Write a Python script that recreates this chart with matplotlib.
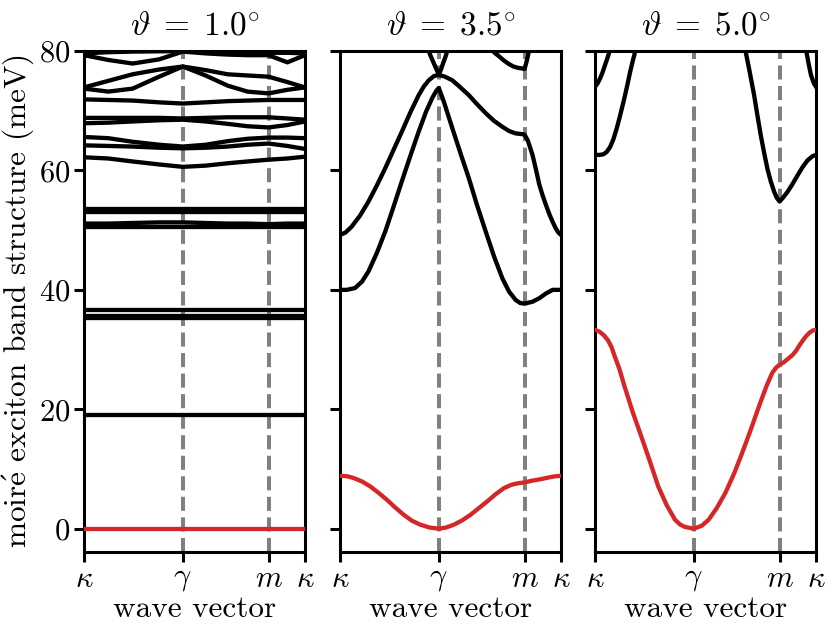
import numpy as np
import matplotlib
matplotlib.use("Agg")
import matplotlib.pyplot as plt

plt.rcParams['font.family'] = ['cmr10', 'DejaVu Serif']
plt.rcParams['mathtext.fontset'] = 'cm'
plt.rcParams['axes.formatter.use_mathtext'] = True

# ---------------- data ----------------
titles = [r"$\vartheta\;=\;1.0^{\circ}$", r"$\vartheta\;=\;3.5^{\circ}$", r"$\vartheta\;=\;5.0^{\circ}$"]
tick_pos = [0.0, 0.447, 0.835, 1.0]
tick_labels = [r"$\kappa$", r"$\gamma$", r"$m$", r"$\kappa$"]
ylabel = r"moir$\acute{\mathrm{e}}$ exciton band structure (meV)"
xlabel = "wave vector"

# panel 1 (theta = 1.0 deg): nearly flat bands on a coarse path grid
p1_k = [0.0, 0.11, 0.22, 0.34, 0.447, 0.55, 0.65, 0.74, 0.835, 0.92, 1.0]
p1_red = [0.0, 0.0, 0.0, 0.0, 0.0, 0.0, 0.0, 0.0, 0.0, 0.0, 0.0]
p1_bands = [
    [19.1] * 11,
    [35.3] * 11,
    [35.6] * 11,
    [36.7] * 11,
    [50.6, 50.6, 50.6, 50.6, 50.6, 50.6, 50.6, 50.6, 50.6, 50.6, 50.6],
    [51.1, 51.1, 51.2, 51.3, 51.3, 51.2, 51.1, 51.1, 51.0, 51.1, 51.1],
    [53.1, 53.1, 53.1, 53.1, 53.1, 53.1, 53.1, 53.1, 53.1, 53.1, 53.1],
    [53.6, 53.6, 53.6, 53.6, 53.6, 53.6, 53.6, 53.6, 53.6, 53.6, 53.6],
    [62.2, 62.0, 61.5, 61.0, 60.6, 60.8, 61.2, 61.5, 61.8, 62.0, 62.3],
    [64.2, 64.1, 64.0, 63.8, 63.7, 63.8, 64.0, 64.3, 64.5, 64.1, 63.6],
    [65.6, 65.4, 64.8, 64.3, 64.0, 64.3, 64.9, 65.3, 65.5, 65.5, 65.4],
    [67.9, 68.0, 68.2, 68.4, 68.5, 68.2, 67.8, 67.4, 67.2, 67.6, 68.2],
    [68.8, 68.8, 68.8, 68.8, 68.7, 68.8, 68.9, 68.9, 68.9, 68.7, 68.5],
    [71.9, 71.8, 71.7, 71.4, 71.2, 71.4, 71.6, 71.7, 71.8, 71.8, 71.8],
    [73.7, 73.2, 73.7, 75.7, 77.4, 75.9, 74.2, 73.2, 72.9, 73.5, 73.9],
    [73.9, 75.0, 76.1, 76.9, 77.4, 76.8, 76.1, 75.9, 75.7, 74.8, 73.9],
    [79.3, 78.5, 77.9, 78.6, 79.9, 79.6, 79.4, 79.3, 79.3, 78.1, 79.3],
    [79.6, 79.8, 79.9, 79.95, 80.0, 79.9, 79.8, 79.8, 79.7, 79.7, 79.6],
]

# panel 2 (theta = 3.5 deg)
p2_red_k = [0.0, 0.03, 0.061, 0.1, 0.136, 0.175, 0.212, 0.25, 0.288, 0.325,
            0.364, 0.405, 0.447, 0.48, 0.515, 0.553, 0.591, 0.63, 0.667, 0.705,
            0.742, 0.775, 0.803, 0.835, 0.87, 0.909, 0.94, 0.970, 1.0]
p2_red = [8.87, 8.8, 8.5, 7.9, 7.1, 6.0, 4.85, 3.55, 2.34, 1.35,
          0.67, 0.2, 0.0, 0.2, 0.67, 1.4, 2.34, 3.5, 4.6, 5.8,
          6.8, 7.35, 7.6, 7.75, 8.05, 8.3, 8.55, 8.76, 8.87]
p2_low_k = [0.0, 0.03, 0.068, 0.1, 0.129, 0.167, 0.205, 0.243, 0.280, 0.318,
            0.356, 0.39, 0.417, 0.435, 0.447, 0.47, 0.508, 0.545, 0.583, 0.62,
            0.659, 0.697, 0.735, 0.765, 0.795, 0.815, 0.835, 0.87, 0.902, 0.932,
            0.962, 1.0]
p2_low = [40.0, 40.0, 40.3, 41.4, 43.1, 46.2, 49.8, 54.0, 58.2, 62.4,
          66.5, 69.9, 72.1, 73.3, 73.8, 71.5, 67.1, 62.9, 58.7, 54.2,
          49.8, 45.6, 41.9, 39.7, 38.3, 37.8, 37.7, 38.0, 38.6, 39.4,
          40.0, 40.0]
p2_up_k = [0.0, 0.025, 0.053, 0.09, 0.129, 0.167, 0.205, 0.243, 0.280, 0.318,
           0.356, 0.38, 0.402, 0.425, 0.447, 0.475, 0.508, 0.545, 0.583, 0.62,
           0.659, 0.697, 0.735, 0.765, 0.795, 0.82, 0.835, 0.85, 0.871, 0.887,
           0.902, 0.917, 0.932, 0.947, 0.962, 0.975, 0.988, 1.0]
p2_up = [49.2, 49.6, 50.6, 52.4, 54.8, 57.5, 60.4, 63.5, 66.5, 69.7,
         72.6, 74.1, 75.1, 75.8, 76.0, 75.7, 75.1, 73.9, 72.6, 71.1,
         69.6, 68.3, 67.3, 66.6, 66.2, 66.1, 66.0, 65.0, 62.6, 60.1,
         57.6, 55.8, 54.2, 52.7, 51.4, 50.4, 49.6, 49.2]
p2_v_k = [0.399, 0.412, 0.425, 0.437, 0.447, 0.457, 0.466, 0.477, 0.487]
p2_v = [80.2, 79.0, 77.9, 76.9, 76.0, 76.9, 77.9, 79.0, 80.2]
p2_m_k = [0.686, 0.703, 0.720, 0.742, 0.765, 0.785, 0.803, 0.82, 0.835, 0.842, 0.848, 0.856]
p2_m = [80.2, 79.6, 79.1, 78.4, 77.8, 77.4, 77.2, 77.1, 77.0, 77.9, 78.8, 80.2]

# panel 3 (theta = 5.0 deg)
p3_red_k = [0.0, 0.02, 0.04, 0.058, 0.075, 0.088, 0.11, 0.134, 0.17, 0.210,
            0.25, 0.286, 0.325, 0.362, 0.385, 0.407, 0.447, 0.483, 0.514, 0.55,
            0.590, 0.63, 0.666, 0.705, 0.742, 0.775, 0.802, 0.82, 0.835, 0.855,
            0.875, 0.894, 0.91, 0.925, 0.94, 0.954, 0.97, 0.985, 1.0]
p3_red = [33.3, 33.0, 32.4, 31.6, 30.4, 29.0, 26.8, 23.8, 19.6, 15.4,
          11.1, 7.1, 3.9, 1.5, 0.7, 0.3, 0.0, 0.5, 1.5, 3.4,
          6.0, 9.3, 12.7, 16.6, 20.5, 23.8, 26.1, 27.0, 27.45, 27.9,
          28.5, 29.1, 29.8, 30.7, 31.5, 32.2, 32.8, 33.2, 33.3]
p3_a_k = [0.0, 0.02, 0.038, 0.053, 0.068, 0.083, 0.098, 0.113, 0.129, 0.144,
          0.159, 0.172, 0.184]
p3_a = [62.6, 62.6, 62.7, 63.1, 63.9, 65.2, 67.0, 69.1, 71.5, 73.9,
        76.5, 78.5, 80.2]
p3_b_k = [0.0, 0.012, 0.023, 0.034, 0.045, 0.057, 0.068]
p3_b = [74.0, 74.6, 75.4, 76.4, 77.6, 78.9, 80.2]
p3_c_k = [0.680, 0.70, 0.720, 0.735, 0.750, 0.765, 0.780, 0.795, 0.811, 0.823,
          0.835, 0.85, 0.871, 0.895, 0.917, 0.94, 0.962, 0.985, 1.0]
p3_c = [80.2, 76.5, 72.6, 69.2, 65.9, 63.0, 60.3, 58.2, 56.4, 55.4,
        54.8, 55.4, 56.4, 57.8, 59.2, 60.6, 61.7, 62.4, 62.6]
p3_d_k = [0.955, 0.967, 0.977, 0.99, 1.0]
p3_d = [80.2, 77.8, 76.0, 74.6, 74.0]

# ---------------- figure ----------------
fig = plt.figure(figsize=(8.25, 6.23), dpi=100)
lefts = [84 / 825, 340 / 825, 595 / 825]
width = 221 / 825
bottom = 1 - 552 / 623
height = (552 - 51) / 623
axes = [fig.add_axes([l, bottom, width, height]) for l in lefts]

RED = '#d62728'
LW = 3.1

def style(ax, i):
    ax.set_xlim(0, 1)
    ax.set_ylim(-3.9, 80)
    for s in ax.spines.values():
        s.set_linewidth(2.2)
    ax.tick_params(axis='both', which='major', direction='out', length=7,
                   width=2.2, labelsize=22, pad=3)
    ax.set_xticks(tick_pos)
    ax.set_xticklabels(tick_labels)
    ax.set_yticks([0, 20, 40, 60, 80])
    if i > 0:
        ax.set_yticklabels([])
    ax.set_xlabel(xlabel, fontsize=22.5, labelpad=1)
    ax.set_title(titles[i], fontsize=24, pad=12)
    for xv in tick_pos[1:3]:
        ax.axvline(xv, color='#808080', lw=2.9, dashes=(3.5, 1.6), zorder=1)

for i, ax in enumerate(axes):
    style(ax, i)

ax = axes[0]
for b in p1_bands:
    ax.plot(p1_k, b, color='black', lw=LW, zorder=3)
ax.plot(p1_k, p1_red, color=RED, lw=LW, zorder=4)
ax.set_ylabel(ylabel, fontsize=22.5, labelpad=2)

ax = axes[1]
ax.plot(p2_low_k, p2_low, color='black', lw=LW, zorder=3)
ax.plot(p2_up_k, p2_up, color='black', lw=LW, zorder=3)
ax.plot(p2_v_k, p2_v, color='black', lw=LW, zorder=3)
ax.plot(p2_m_k, p2_m, color='black', lw=LW, zorder=3)
ax.plot(p2_red_k, p2_red, color=RED, lw=LW, zorder=4)

ax = axes[2]
ax.plot(p3_a_k, p3_a, color='black', lw=LW, zorder=3)
ax.plot(p3_b_k, p3_b, color='black', lw=LW, zorder=3)
ax.plot(p3_c_k, p3_c, color='black', lw=LW, zorder=3)
ax.plot(p3_d_k, p3_d, color='black', lw=LW, zorder=3)
ax.plot(p3_red_k, p3_red, color=RED, lw=LW, zorder=4)

fig.savefig("out.png", dpi=100)
